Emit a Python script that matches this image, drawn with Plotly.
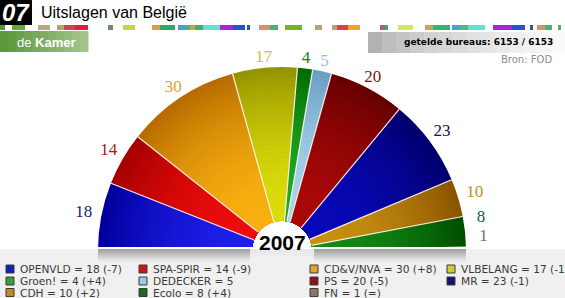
import math
import plotly.graph_objects as go

# ---------------- data ----------------
parties = ["OPENVLD", "SPA-SPIR", "CD&V/NVA", "VLBELANG", "Groen!", "DEDECKER",
           "PS", "MR", "CDH", "Ecolo", "FN"]
seats = [18, 14, 30, 17, 4, 5, 20, 23, 10, 8, 1]
changes = [-7, -9, 8, -1, 4, None, -5, -1, 2, 4, 0]
year = "2007"
title = "Uitslagen van België"
chamber_prefix = "de"
chamber_name = "Kamer"
counted = "getelde bureaus: 6153 / 6153"
source = "Bron: FOD"

# ---------------- styles ----------------
colors_light = ["#1e1eea", "#ee0c0c", "#f8b010", "#dcdc0a", "#22aa22", "#a8d4ec",
                "#aa0808", "#0808b8", "#c89010", "#128c12", "#aa8e72"]
colors_dark = ["#00009c", "#a60000", "#b86c00", "#969400", "#006c00", "#6a9ec4",
               "#660000", "#00006e", "#8a5400", "#004e00", "#7a5a3e"]
label_colors = ["#1c1c6c", "#a21a1a", "#d8a232", "#c8c24a", "#128212", "#94c2e2",
                "#7e1212", "#121250", "#b89232", "#126232", "#80705e"]
legend_colors = ["#1020c0", "#d01414", "#e4a234", "#cccc34", "#34a034", "#98cce2",
                 "#8e1212", "#141470", "#c08a24", "#146e14", "#947462"]

W, H = 565, 298


def X(px):
    return px / W


def Y(py):
    return 1 - py / H


def hex2rgb(h):
    h = h.lstrip("#")
    return tuple(int(h[i:i + 2], 16) for i in (0, 2, 4))


def mix(a, b, t):
    ra, rb = hex2rgb(a), hex2rgb(b)
    return "rgb(%d,%d,%d)" % tuple(round(ra[i] + (rb[i] - ra[i]) * t) for i in range(3))


fig = go.Figure()

# ---------------- hemicycle ----------------
total = sum(seats)
deg = 180.0 / total
starts = []
c = 0
for s in seats:
    starts.append(c)
    c += s
centers = [(st + s / 2) * deg for st, s in zip(starts, seats)]
widths = [s * deg for s in seats]

N = 32
for k in range(N):
    rk = 1 - k / N
    t = rk ** 2.0
    fig.add_trace(go.Barpolar(
        r=[rk] * len(seats), theta=centers, width=widths,
        marker=dict(color=[mix(l, d, t) for l, d in zip(colors_light, colors_dark)],
                    line=dict(width=0)),
        hoverinfo="skip", showlegend=False))

# separators
sep_r, sep_t = [], []
for st in starts[1:]:
    sep_r += [0, 1, None]
    sep_t += [st * deg, st * deg, None]
fig.add_trace(go.Scatterpolar(r=sep_r, theta=sep_t, mode="lines",
                              line=dict(color="rgba(255,244,240,0.95)", width=1.2),
                              hoverinfo="skip", showlegend=False))

# seat labels (spread apart near the ends, slightly closer at the top)
lab = [min(max(cc, 4.0), 176.0) for cc in centers]
for i in range(len(lab) - 2, -1, -1):
    lab[i] = min(lab[i], lab[i + 1] - 5.5)
lab_r = [1.065 + 0.052 * math.cos(math.radians(a)) ** 2 for a in lab]
fig.add_trace(go.Scatterpolar(
    r=lab_r, theta=lab, mode="text",
    text=[str(s) for s in seats], textposition="middle center",
    textfont=dict(family="Liberation Serif", size=17, color=label_colors),
    cliponaxis=False, hoverinfo="skip", showlegend=False))

# geometry: centre (282, 251) px, outer wedge radius 184 px, hole 30 px
cx_px, cy_px, hole_px, outer_px = 282, 251, 30, 184
r_max = 1.14
R_ax = hole_px + r_max * (outer_px - hole_px)
fig.update_layout(
    polar=dict(
        domain=dict(x=[X(cx_px - R_ax), X(cx_px + R_ax)], y=[Y(cy_px), Y(cy_px - R_ax)]),
        sector=[0, 180], hole=hole_px / R_ax, bgcolor="rgba(0,0,0,0)",
        barmode="overlay",
        angularaxis=dict(rotation=180, direction="clockwise", visible=False,
                         showgrid=False),
        radialaxis=dict(range=[0, r_max], visible=False, showgrid=False),
    )
)

shapes = []
annotations = []


def rect(x0, y0, x1, y1, color, layer="below", line=None):
    d = dict(type="rect", xref="paper", yref="paper",
             x0=X(x0), x1=X(x1), y0=Y(y1), y1=Y(y0),
             fillcolor=color, layer=layer, line=dict(width=0))
    if line:
        d["line"] = dict(color=line, width=1)
    shapes.append(d)


def text(px, py, s, size, color, family="Liberation Sans", xanchor="center"):
    annotations.append(dict(x=X(px), y=Y(py), xref="paper", yref="paper", text=s,
                            xanchor=xanchor, yanchor="middle", showarrow=False,
                            font=dict(family=family, size=size, color=color)))


# ---------------- header ----------------
rect(0, 0, 32, 25, "#000000")
text(16, 12.5, "<b><i>07</i></b>", 24, "white")
text(39, 13, title, 16, "#000000", xanchor="left")

strip = [(0, 5, "#4f9a34"), (12, 25, "#6aaa2a"), (38, 50, "#b8aa78"), (57, 64, "#b4a46c"),
         (64, 75, "#c4484a"), (75, 88, "#e21c3a"), (108, 113, "#6e8a78"), (123, 135, "#c8d444"),
         (152, 160, "#d4a444"), (160, 175, "#2eaa68"), (178, 185, "#44a0d4"), (185, 190, "#46b47e"),
         (190, 195, "#d4a044"), (195, 203, "#3cb070"), (203, 220, "#64e0d4"), (220, 233, "#a824e0"),
         (233, 245, "#2454d4"), (247, 250, "#3454a4"), (259, 270, "#d49464"), (270, 278, "#44b474"),
         (285, 302, "#74b424"), (315, 322, "#b4a474"), (332, 337, "#b4a474"), (337, 348, "#d44444"),
         (348, 360, "#f4a424"), (380, 385, "#a46464"), (385, 388, "#44a474"), (398, 413, "#d4e464"),
         (425, 433, "#d4a444"), (433, 450, "#34b474"), (452, 460, "#44a4d4"), (460, 468, "#54b494"),
         (468, 485, "#64e0d4"), (493, 512, "#a424e0"), (512, 525, "#2454d4"), (530, 533, "#3454a4"),
         (537, 545, "#d49464"), (545, 552, "#44b474"), (558, 561, "#54b454")]
for x0, x1, col in strip:
    rect(x0, 25, x1, 30, col)

# green "de Kamer" bar (gradient)
steps = 11
for i in range(steps):
    x0 = 88 * i / steps
    x1 = 88 * (i + 1) / steps + 0.5
    rect(x0, 31, x1, 52, mix("#5a983a", "#a2c48a", i / (steps - 1)))
text(15, 42, chamber_prefix + " <b>" + chamber_name + "</b>", 13, "white", xanchor="left")

# grey counted bar (gradient)
steps = 14
for i in range(steps):
    x0 = 368 + (565 - 368) * i / steps
    x1 = 368 + (565 - 368) * (i + 1) / steps + 0.5
    rect(x0, 32, x1, 53, mix("#b2b2b2", "#fafafa", (i / (steps - 1)) ** 0.7))
text(555, 42.5, "<b>" + counted + "</b>", 9, "#000000", family="DejaVu Sans", xanchor="right")
text(554, 60, source, 10, "#8c8c8c", family="DejaVu Sans", xanchor="right")

# ---------------- bottom panel (covers the lower edge of the hemicycle) ----------------
rect(0, 247, 565, 249.5, "#ffffff", layer="above")
rect(0, 249, 565, 298, "#f0f0f0", layer="above")
bands = 7
for i in range(bands):
    y0 = 249 + 13 * i / bands
    y1 = 249 + 13 * (i + 1) / bands + 0.5
    col = mix("#a2a2a2", "#ececec", i / (bands - 1))
    rect(98, y0, 250, y1, col, layer="above")
    rect(314, y0, 466, y1, col, layer="above")
    rect(250, y0, 314, y1, mix("#e8e8e8", "#f2f2f2", i / (bands - 1)), layer="above")

# hole label
text(282, 242, "<b>" + year + "</b>", 21, "#000000")

# ---------------- legend ----------------
col_x = [6, 139, 310, 447]
row_y = [269, 281, 292.5]
for i, (p, s, ch) in enumerate(zip(parties, seats, changes)):
    lx = col_x[i % 4]
    ly = row_y[i // 4]
    rect(lx, ly - 4, lx + 8, ly + 4, legend_colors[i], layer="above", line="#3a3a3a")
    if ch is None:
        suffix = ""
    elif ch == 0:
        suffix = " (=)"
    else:
        suffix = " (%+d)" % ch
    label = (p + " = " + str(s) + suffix).replace("&", "&amp;")
    text(lx + 12, ly, label, 10.6, "#3a3a3a", family="DejaVu Sans", xanchor="left")

fig.update_layout(
    width=W, height=H, margin=dict(l=0, r=0, t=0, b=0),
    paper_bgcolor="white", plot_bgcolor="white",
    shapes=shapes, annotations=annotations, showlegend=False,
)

fig.write_html("out.html", config={"displayModeBar": False})
